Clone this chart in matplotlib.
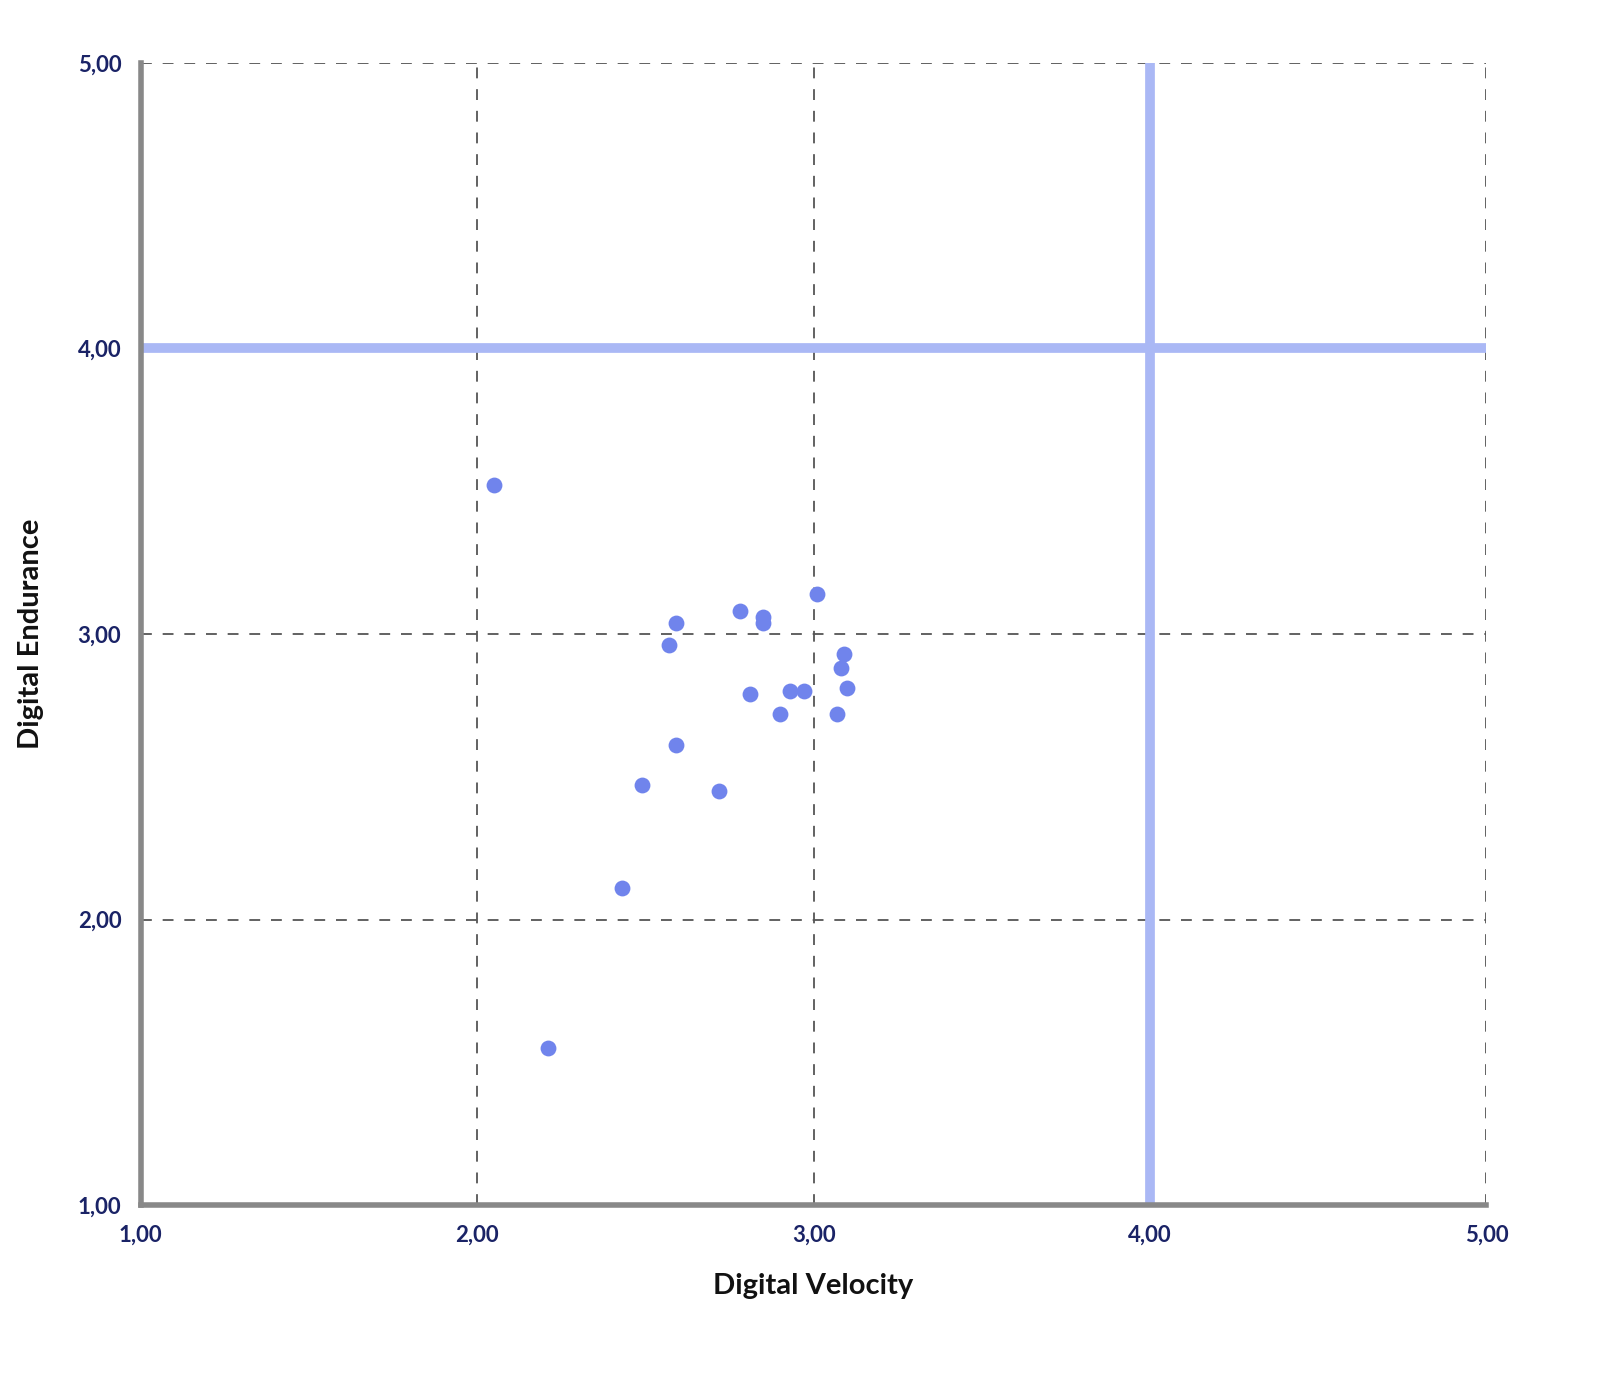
import matplotlib
matplotlib.use("Agg")
import matplotlib.pyplot as plt
from matplotlib.ticker import FuncFormatter

plt.rcParams['font.family'] = ['Lato', 'DejaVu Sans']
plt.rcParams['font.weight'] = 'bold'

velocity = [2.05, 2.21, 2.43, 2.49, 2.57, 2.59, 2.59, 2.72, 2.78, 2.81,
            2.85, 2.85, 2.90, 2.93, 2.97, 3.01, 3.07, 3.08, 3.09, 3.10]
endurance = [3.52, 1.55, 2.11, 2.47, 2.96, 3.04, 2.61, 2.45, 3.08, 2.79,
             3.06, 3.04, 2.72, 2.80, 2.80, 3.14, 2.72, 2.88, 2.93, 2.81]
ticks = [1, 2, 3, 4, 5]
threshold_x = 4.0
threshold_y = 4.0

fig = plt.figure(figsize=(16, 13.97), dpi=100)
ax = fig.add_axes([0.088, 0.1374, 0.841, 0.8176])

ax.set_xlim(1, 5)
ax.set_ylim(1, 5)
ax.set_xticks(ticks)
ax.set_yticks(ticks)
fmt = FuncFormatter(lambda v, p: f"{v:.2f}".replace('.', ','))
ax.xaxis.set_major_formatter(fmt)
ax.yaxis.set_major_formatter(fmt)

ax.grid(True, linestyle=(0, (6, 6)), color='#555555', linewidth=1.3)
for s in ['top', 'right']:
    ax.spines[s].set_visible(False)
for s in ['left', 'bottom']:
    ax.spines[s].set_color('#888888')
    ax.spines[s].set_linewidth(4)
ax.tick_params(length=0, labelsize=16, labelcolor='#1a2366', pad=14)

ax.axvline(threshold_x, color='#aab8f5', linewidth=7, zorder=2)
ax.axhline(threshold_y, color='#aab8f5', linewidth=7, zorder=2)

ax.scatter(velocity, endurance, s=130, color='#7084ec', zorder=3, linewidths=0)

ax.set_xlabel('Digital Velocity', fontsize=21, fontweight='bold', color='#111111', labelpad=20)
ax.set_ylabel('Digital Endurance', fontsize=21, fontweight='bold', color='#111111', labelpad=24)

fig.savefig('out.png', dpi=100, facecolor='white')
